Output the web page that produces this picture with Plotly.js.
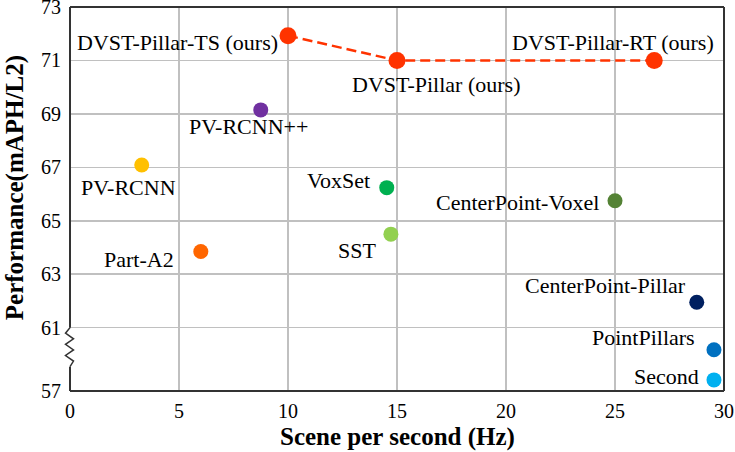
<!DOCTYPE html>
<html>
<head>
<meta charset="utf-8">
<script src="https://cdn.plot.ly/plotly-3.0.1.min.js"></script>
<style>html,body{margin:0;padding:0;background:#fff;}#chart{width:735px;height:452px;}</style>
</head>
<body>
<div id="chart"></div>
<script>
// ---- data ----
const oursNames = ["DVST-Pillar-TS (ours)", "DVST-Pillar (ours)", "DVST-Pillar-RT (ours)"];
const oursHz = [10.0, 15.0, 26.8];
const oursPerf = [71.93, 71.0, 71.0];

const otherNames = ["PV-RCNN++", "PV-RCNN", "Part-A2", "VoxSet", "SST", "CenterPoint-Voxel", "CenterPoint-Pillar", "PointPillars", "Second"];
const otherHz = [8.75, 3.29, 6.0, 14.53, 14.72, 25.0, 28.75, 29.54, 29.54];
const otherPerf = [69.15, 67.09, 63.85, 66.24, 64.5, 65.75, 61.95, 59.6, 57.7];

const yTickValues = [57, 61, 63, 65, 67, 69, 71, 73];
const xTickValues = [0, 5, 10, 15, 20, 25, 30];
const xTitle = "Scene per second (Hz)";
const yTitle = "Performance(mAPH/L2)";

// ---- styles ----
const otherColors = ["#7030A0", "#FFC000", "#FF6600", "#00B050", "#92D050", "#548235", "#002060", "#0070C0", "#00B0F0"];
const oursColor = "#FF3300";
// label offsets in pixels [xanchor, xshift, yshift]
const oursLabelPos = [["right", -8, -7], ["center", 39, -24], ["center", -41, 18]];
const otherLabelPos = [["center", -12, -17], ["center", -13, -23], ["right", -25, -8], ["right", -15, 7], ["right", -13, -16], ["right", -14, -2], ["right", -9, 17], ["right", -17, 12], ["right", -13, 3]];

// axis break: values below 61 are compressed
const BREAK = 61, K = 0.593;
function disp(v) { return v >= BREAK ? v : BREAK - (BREAK - v) * K; }

const serif = "Liberation Serif, Times New Roman, serif";

const traces = [
  {
    x: oursHz, y: oursPerf.map(disp), type: "scatter", mode: "lines+markers",
    line: {color: oursColor, width: 2.5, dash: "10px,5px"},
    marker: {color: oursColor, size: 17},
    hoverinfo: "skip", showlegend: false
  },
  {
    x: otherHz, y: otherPerf.map(disp), type: "scatter", mode: "markers",
    marker: {color: otherColors, size: 15},
    hoverinfo: "skip", showlegend: false
  }
];

const annotations = [];
oursNames.forEach((n, i) => annotations.push({
  x: oursHz[i], y: disp(oursPerf[i]), xref: "x", yref: "y", text: n, showarrow: false,
  xanchor: oursLabelPos[i][0], yanchor: "middle", xshift: oursLabelPos[i][1], yshift: oursLabelPos[i][2],
  font: {family: serif, size: 22, color: "#000"}
}));
otherNames.forEach((n, i) => annotations.push({
  x: otherHz[i], y: disp(otherPerf[i]), xref: "x", yref: "y", text: n, showarrow: false,
  xanchor: otherLabelPos[i][0], yanchor: "middle", xshift: otherLabelPos[i][1], yshift: otherLabelPos[i][2],
  font: {family: serif, size: 22, color: "#000"}
}));
// axis titles
annotations.push({
  xref: "paper", yref: "paper", x: 0.5, y: -0.119, xanchor: "center", yanchor: "middle",
  text: "<b>" + xTitle + "</b>", showarrow: false, font: {family: serif, size: 25, color: "#000"}
});
annotations.push({
  xref: "paper", yref: "paper", x: -0.083, y: 0.53, xanchor: "center", yanchor: "middle", textangle: -90,
  text: "<b>" + yTitle + "</b>", showarrow: false, font: {family: serif, size: 25, color: "#000"}
});

const yTop = 73.002;
const yBottom = disp(57);
const sq0 = disp(BREAK), sq1 = BREAK - 39 / 26.7; // squiggle extent (display units)
const px = 1 / 654;
function zig() {
  const n = 7, pts = [];
  for (let i = 0; i <= n; i++) {
    const yy = sq0 - (sq0 - sq1) * i / n;
    let xx = 0;
    if (i > 0 && i < n) xx = (i % 2 ? -4.5 : 3.5) * px;
    pts.push((i ? "L" : "M") + xx + "," + yy);
  }
  return pts.join(" ");
}

const frameColor = "#333333";
const shapes = [
  {type: "line", xref: "paper", yref: "y", x0: 0, x1: 0, y0: sq0, y1: yTop, line: {color: frameColor, width: 2}},
  {type: "line", xref: "paper", yref: "y", x0: 0, x1: 0, y0: yBottom, y1: sq1, line: {color: frameColor, width: 2}},
  {type: "path", xref: "paper", yref: "y", path: zig(), line: {color: frameColor, width: 1.5}},
  {type: "line", xref: "paper", yref: "paper", x0: 1, x1: 1, y0: 0, y1: 1, line: {color: frameColor, width: 2}},
  {type: "line", xref: "paper", yref: "paper", x0: 0, x1: 1, y0: 1, y1: 1, line: {color: frameColor, width: 2}},
  {type: "line", xref: "paper", yref: "paper", x0: 0, x1: 1, y0: 0, y1: 0, line: {color: frameColor, width: 2}}
];

const layout = {
  width: 735, height: 452,
  margin: {l: 70, r: 11, t: 7, b: 61},
  paper_bgcolor: "#fff", plot_bgcolor: "#fff",
  font: {family: serif, color: "#000"},
  xaxis: {
    range: [0, 30], tickvals: xTickValues, ticktext: xTickValues.map(String),
    showgrid: true, gridcolor: "#C0C0C0", gridwidth: 1.5, zeroline: false,
    showline: false, ticks: "", ticklabelstandoff: 6, ticklabeloverflow: "allow",
    tickfont: {family: serif, size: 20, color: "#000"}
  },
  yaxis: {
    range: [yBottom, yTop], tickvals: yTickValues.map(disp), ticktext: yTickValues.map(String),
    showgrid: true, gridcolor: "#C0C0C0", gridwidth: 1.5, zeroline: false,
    showline: false, ticks: "", ticklabelstandoff: 8, ticklabeloverflow: "allow",
    tickfont: {family: serif, size: 20, color: "#000"}
  },
  shapes: shapes,
  annotations: annotations
};

Plotly.newPlot("chart", traces, layout, {displayModeBar: false, staticPlot: true});
</script>
</body>
</html>
